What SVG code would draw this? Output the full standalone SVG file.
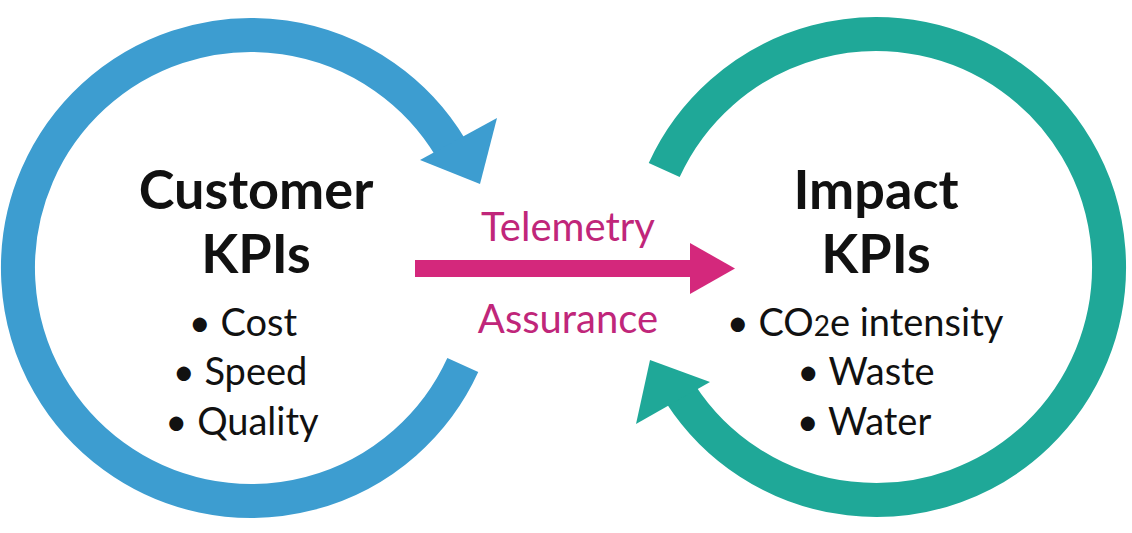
<svg xmlns="http://www.w3.org/2000/svg" width="1132" height="533" viewBox="0 0 1132 533">
<style>
.t{font-family:"Lato","Liberation Sans",sans-serif;text-anchor:middle}
.h{font-size:54px;font-weight:bold;fill:#111}
.b{font-size:38px;fill:#111}
.m{font-size:40px;fill:#c0267a}
</style>
<rect width="1132" height="533" fill="#fff"/>
<g id="connectors">
<path d="M462.8,365 A233,233 0 1 1 450.7,148" fill="none" stroke="#3d9dd0" stroke-width="34"/>
<polygon points="420,160 497,118 480,184" fill="#3d9dd0"/>
<path d="M664.2,170 A233,233 0 1 1 680.6,393.9" fill="none" stroke="#1fa898" stroke-width="34"/>
<polygon points="710,382 636,424 650,360" fill="#1fa898"/>
<rect x="415" y="260" width="278" height="17" fill="#d4287c"/>
<polygon points="690,243 735,268.5 690,294" fill="#d4287c"/>
</g>
<g id="customer">
<text class="t h" x="256" y="209">Customer</text>
<text class="t h" x="256" y="273">KPIs</text>
<text class="t b" x="243" y="336">• Cost</text>
<text class="t b" x="240" y="385">• Speed</text>
<text class="t b" x="242" y="435">• Quality</text>
</g>
<g id="impact">
<text class="t h" x="876" y="209">Impact</text>
<text class="t h" x="876" y="273">KPIs</text>
<text class="t b" x="865" y="336">• CO<tspan font-size="28">2</tspan>e intensity</text>
<text class="t b" x="866" y="385">• Waste</text>
<text class="t b" x="864" y="435">• Water</text>
</g>
<g id="labels">
<text class="t m" x="568" y="241">Telemetry</text>
<text class="t m" x="568" y="333">Assurance</text>
</g>
</svg>
